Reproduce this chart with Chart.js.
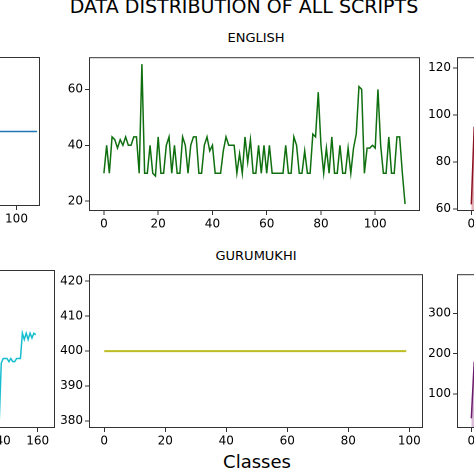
<!DOCTYPE html>
<html><head><meta charset="utf-8">
<script src="https://cdn.jsdelivr.net/npm/chart.js@4"></script>
<style>
body{margin:0;width:474px;height:474px;overflow:hidden;background:#fff;position:relative;font-family:"DejaVu Sans",sans-serif}
canvas{position:absolute}
.t{position:absolute;white-space:nowrap;transform:translateX(-50%);color:#000}
</style></head><body>
<div class="t" style="left:244px;top:-5px;font-size:19px">DATA DISTRIBUTION OF ALL SCRIPTS</div>
<div class="t" style="left:256px;top:30px;font-size:13px">ENGLISH</div>
<div class="t" style="left:256px;top:248px;font-size:13px">GURUMUKHI</div>
<div class="t" style="left:257px;top:451px;font-size:18px">Classes</div>
<script>
const english = [30,40,30,43,42,39,42,40,43,40,40,43,43,30,69,30,30,40,30,29,43,30,30,40,43,30,40,30,30,43,40,30,40,43,43,30,30,40,43,38,40,30,30,30,38,43,40,40,40,30,37,30,43,34,42,30,30,40,30,40,30,40,30,30,30,30,30,40,30,30,43,40,30,30,38,30,30,44,43,59,40,30,39,30,43,30,30,40,30,30,39,30,39,44,61,60,30,39,39,40,39,60,40,30,30,43,30,30,43,43,30,19];
const gurumukhi = Array(100).fill(400);
const firstScript = Array(108).fill(50);
const cyanX = [130,132,134,136,138,139,140,141,142,143,144,145,146,147,148,149,150,151,152,153,154,155,156,157,158,159];
const cyanY = [20,15,25,18,10,8,6,41,44,44,44,42,44,42,42,44,44,44,60,56,60,56,60,57,60,59];
const redY = [62,95,70,90,65,85,62];
const purpleY = [40,180,60,170,45,150,40];

function ser(ys, xs){return ys.map((v,i)=>({x:xs?xs[i]:i,y:v}));}
const box={id:'box',afterDraw(c){const a=c.chartArea,g=c.ctx;g.save();g.strokeStyle='#333';g.lineWidth=1;g.strokeRect(a.left+.5,a.top+.5,a.width-1,a.height-1);g.restore();}};
function panel(pl,pt,pw,ph,xr,yr,ds,showX,showY){
  const c=document.createElement('canvas');
  const L=45,B=25;
  c.style.left=(pl-L)+'px';c.style.top=(pt-5)+'px';
  c.style.width=(pw+L+5)+'px';c.style.height=(ph+B+5)+'px';
  document.body.appendChild(c);
  const ax=(r,show,isX)=>({type:'linear',min:r[0],max:r[1],
    afterBuildTicks:s=>{const t=[];for(let v=Math.ceil(r[0]/r[2])*r[2];v<=r[1]+1e-9;v+=r[2])t.push({value:v});s.ticks=t;},
    afterFit:s=>{if(isX)s.height=B;else s.width=L;},
    border:{display:false},
    grid:{display:show,drawOnChartArea:false,drawTicks:true,tickLength:4,color:'#333'},
    ticks:{display:show,color:'#000',font:{family:'DejaVu Sans',size:12},padding:2,maxRotation:0,autoSkip:false}});
  new Chart(c,{type:'line',data:{datasets:ds},
    options:{responsive:false,animation:false,devicePixelRatio:2,
      layout:{padding:{top:5,right:5,left:0,bottom:0}},
      plugins:{legend:{display:false},tooltip:{enabled:false}},
      elements:{point:{radius:0},line:{tension:0,borderWidth:1.5}},
      scales:{x:ax(xr,showX,true),y:ax(yr,showY,false)}},plugins:[box]});
}
panel(-292,57,332,149,[-5,108,20],[0,100,20],[{data:ser(firstScript),borderColor:'#1f77b4'}],true,false);
panel(89,53,331,158,[-5.5,116.5,20],[16.5,71.5,20],[{data:ser(english),borderColor:'#107010'}],true,true);
panel(457,53,330,158,[-5,110,20],[59.2,124.5,20],[{data:ser(redY),borderColor:'#8b1020',fill:'origin',backgroundColor:'rgba(180,40,60,0.35)'}],true,true);
panel(-279,270,334,158,[-5,169,20],[0,100,20],[{data:ser(cyanY,cyanX),borderColor:'#17becf'}],true,false);
panel(89,270,334,158,[-5,104.5,20],[378,422,10],[{data:ser(gurumukhi),borderColor:'#bcbd22',borderWidth:2}],true,true);
panel(457,270,330,158,[-5,110,20],[16,397,100],[{data:ser(purpleY),borderColor:'#6a1b6a',fill:'origin',backgroundColor:'rgba(150,60,150,0.35)'}],true,true);
</script></body></html>
